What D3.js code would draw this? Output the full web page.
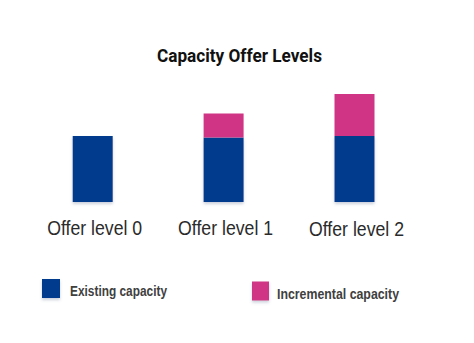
<!DOCTYPE html>
<html>
<head>
<meta charset="utf-8">
<script src="https://cdn.jsdelivr.net/npm/d3@7"></script>
<style>
  html, body { margin: 0; padding: 0; background: #fff; }
  svg { display: block; }
</style>
</head>
<body>
<svg id="chart" width="474" height="343"></svg>
<script>
// Offer levels and the capacity stacked in each one
const categories = ["Offer level 0", "Offer level 1", "Offer level 2"];
const existingCapacity = [66, 64.5, 66];
const incrementalCapacity = [0, 24, 42];
const seriesNames = ["Existing capacity", "Incremental capacity"];
const seriesColors = ["#033A8D", "#CF3584"];

const svg = d3.select("#chart");

// soft shadow under the boxes
const defs = svg.append("defs");
const f = defs.append("filter").attr("id", "shadow")
  .attr("x", "-20%").attr("y", "-20%").attr("width", "140%").attr("height", "150%");
f.append("feDropShadow").attr("dx", 0).attr("dy", 2).attr("stdDeviation", 1.4)
  .attr("flood-color", "#6a7a99").attr("flood-opacity", 0.35);

// Title
svg.append("text")
  .attr("x", 239.5).attr("y", 61.5)
  .attr("text-anchor", "middle")
  .attr("textLength", 165)
  .attr("lengthAdjust", "spacingAndGlyphs")
  .style("font-family", "Roboto, 'Liberation Sans', sans-serif")
  .style("font-weight", 700)
  .style("font-size", "17.5px")
  .attr("fill", "#111")
  .text("Capacity Offer Levels");

// Scales
const x = d3.scalePoint().domain(categories).range([92.7, 354.5]);
const y = d3.scaleLinear().domain([0, 120]).range([202, 82]);
const barW = 40;

const rows = categories.map((c, i) => ({ cat: c, existing: existingCapacity[i], incremental: incrementalCapacity[i] }));
const stack = d3.stack().keys(["existing", "incremental"])(rows);

const g = svg.append("g");
stack.forEach((layer, li) => {
  g.append("g")
    .attr("fill", seriesColors[li])
    .attr("filter", li === 0 ? "url(#shadow)" : null)
    .selectAll("rect")
    .data(layer.filter(d => d[1] > d[0]))
    .join("rect")
    .attr("x", d => x(d.data.cat) - barW / 2)
    .attr("y", d => y(d[1]))
    .attr("width", barW)
    .attr("height", d => y(d[0]) - y(d[1]));
});

// Category labels under the bars
svg.append("g").selectAll("text")
  .data(categories)
  .join("text")
  .attr("x", d => x(d) + 2)
  .attr("y", (d, i) => 234.5 + i * 0.5)
  .attr("text-anchor", "middle")
  .attr("textLength", 95)
  .attr("lengthAdjust", "spacingAndGlyphs")
  .style("font-family", "'Liberation Sans', Arial, sans-serif")
  .style("font-size", "20px")
  .attr("fill", "#2b2b2b")
  .text(d => d);

// Legend
const legend = [
  { name: seriesNames[0], color: seriesColors[0], sx: 42, sy: 279, sw: 18, sh: 19, tx: 70, ty: 295.5, tl: 97 },
  { name: seriesNames[1], color: seriesColors[1], sx: 252, sy: 281.5, sw: 17, sh: 19, tx: 277, ty: 299, tl: 122 }
];
const lg = svg.append("g").selectAll("g").data(legend).join("g");
lg.append("rect")
  .attr("x", d => d.sx).attr("y", d => d.sy)
  .attr("width", d => d.sw).attr("height", d => d.sh)
  .attr("fill", d => d.color)
  .attr("filter", "url(#shadow)");
lg.append("text")
  .attr("x", d => d.tx).attr("y", d => d.ty)
  .attr("textLength", d => d.tl)
  .attr("lengthAdjust", "spacingAndGlyphs")
  .style("font-family", "'Liberation Sans', Arial, sans-serif")
  .style("font-size", "14.5px")
  .style("font-weight", 700)
  .attr("fill", "#404040")
  .text(d => d.name);
</script>
</body>
</html>
